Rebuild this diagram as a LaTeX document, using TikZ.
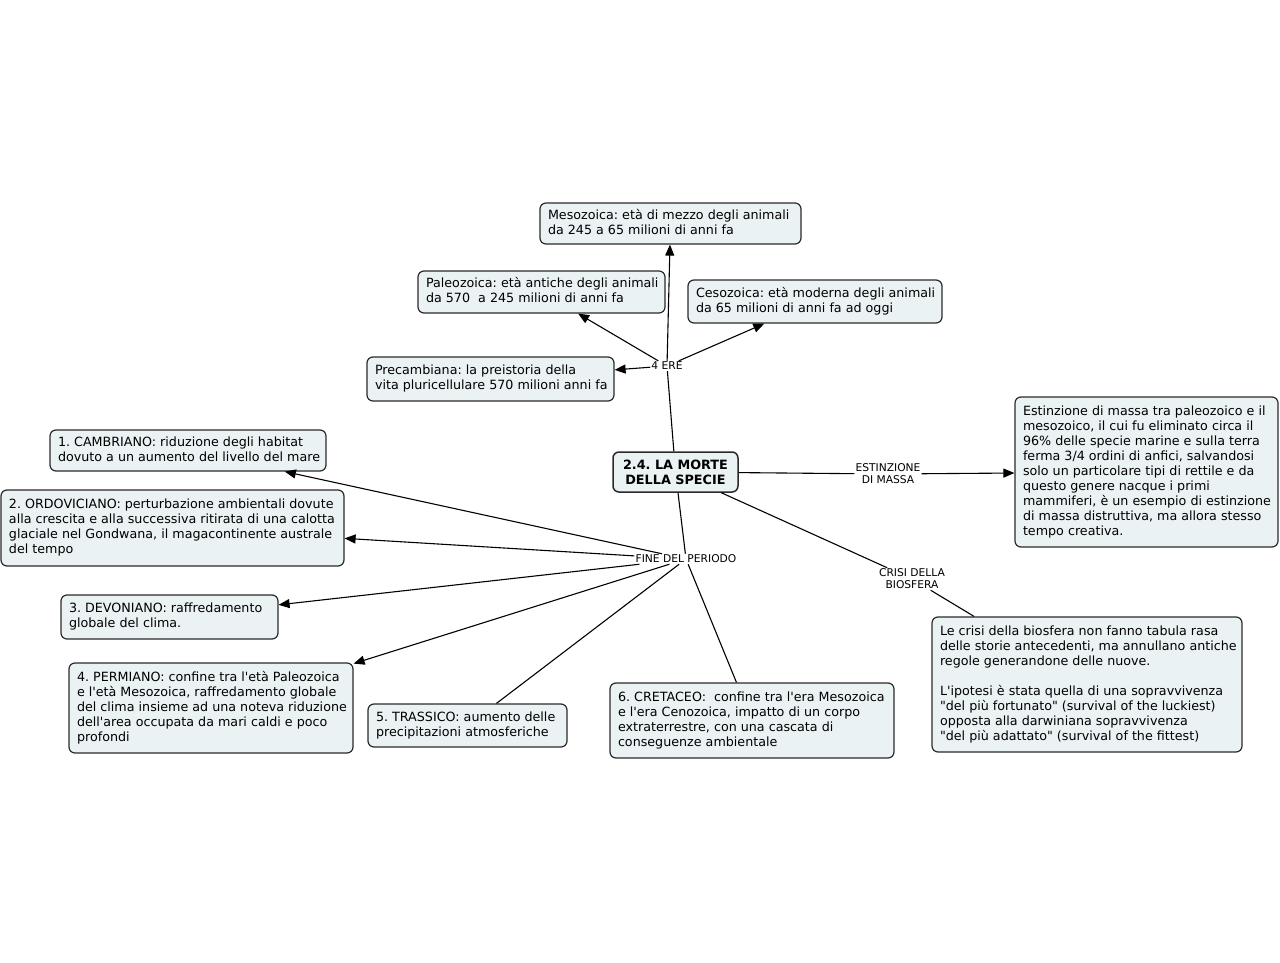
\documentclass[tikz,border=0pt]{standalone}
\usepackage{fontspec}
\setmainfont{DejaVu Sans}
\usetikzlibrary{arrows.meta}
\definecolor{boxfill}{HTML}{EBF2F4}
\definecolor{boxline}{HTML}{2A2A2A}
\frenchspacing
\newcommand{\sq}{\textquotesingle}
\newcommand{\dq}{\textquotedbl}
\tikzset{
  px/.style={x=1pt,y=-1pt},
  cbox/.style={draw=boxline,fill=boxfill,line width=1.2pt,rounded corners=6pt,
    inner xsep=8pt,inner ysep=3pt,font=\fontsize{12.7}{15}\selectfont\frenchspacing},
  hub/.style={draw=boxline,fill=boxfill,line width=1.5pt,rounded corners=6pt,
    inner sep=3pt,font=\fontsize{12.8}{15}\selectfont\bfseries\frenchspacing,align=center},
  lbl/.style={font=\fontsize{10.7}{12}\selectfont,align=center,inner sep=1pt},
  conn/.style={line width=1.1pt,draw=black},
  arr/.style={conn,-{Triangle[length=11pt,width=9pt]}},
}
\newcommand{\bx}[6]{% name, cx, cy, w, h, text
  \node[cbox,minimum width=#4pt,minimum height=#5pt] (#1) at (#2,#3)
  {\makebox[\dimexpr#4pt-16pt\relax][l]{\begin{tabular}{@{}l@{}}#6\end{tabular}}};}
\begin{document}
\begin{tikzpicture}[px]
\useasboundingbox (0,0) rectangle (1280,963);
\fill[white] (0,0) rectangle (1280,963);

\bx{mes}{670.5}{223.5}{261}{41}{Mesozoica: età di mezzo degli animali\\da 245 a 65 milioni di anni fa}
\bx{pal}{541.5}{292}{247}{42}{Paleozoica: età antiche degli animali\\da 570 \ a 245 milioni di anni fa}
\bx{ces}{815}{301.5}{254}{43}{Cesozoica: età moderna degli animali\\da 65 milioni di anni fa ad oggi}
\bx{pre}{490.5}{379}{247}{44}{Precambiana: la preistoria della\\vita pluricellulare 570 milioni anni fa}
\bx{est}{1146.5}{472}{263}{150}{Estinzione di massa tra paleozoico e il\\mesozoico, il cui fu eliminato circa il\\96\% delle specie marine e sulla terra\\ferma 3/4 ordini di anfici, salvandosi\\solo un particolare tipi di rettile e da\\questo genere nacque i primi\\mammiferi, è un esempio di estinzione\\di massa distruttiva, ma allora stesso\\tempo creativa.}
\bx{cri}{1087}{684.5}{310}{135}{Le crisi della biosfera non fanno tabula rasa\\delle storie antecedenti, ma annullano antiche\\regole generandone delle nuove.\\ \\L\sq ipotesi è stata quella di una sopravvivenza\\\dq del più fortunato\dq{} (survival of the luckiest)\\opposta alla darwiniana sopravvivenza\\\dq del più adattato\dq{} (survival of the fittest)}
\bx{c1}{188}{450.5}{276}{41}{1. CAMBRIANO: riduzione degli habitat\\dovuto a un aumento del livello del mare}
\bx{c2}{172.5}{528}{343}{76}{2. ORDOVICIANO: perturbazione ambientali dovute\\alla crescita e alla successiva ritirata di una calotta\\glaciale nel Gondwana, il magacontinente australe\\del tempo}
\bx{c3}{169.5}{617}{217}{44}{3. DEVONIANO: raffredamento\\globale del clima.}
\bx{c4}{211}{708}{284}{90}{4. PERMIANO: confine tra l\sq età Paleozoica\\e l\sq età Mesozoica, raffredamento globale\\del clima insieme ad una noteva riduzione\\dell\sq area occupata da mari caldi e poco\\profondi}
\bx{c5}{467.5}{725.5}{199}{43}{5. TRASSICO: aumento delle\\precipitazioni atmosferiche}
\bx{c6}{752}{720.5}{284}{75}{6. CRETACEO: \ confine tra l\sq era Mesozoica\\e l\sq era Cenozoica, impatto di un corpo\\extraterrestre, con una cascata di\\conseguenze ambientale}

\node[hub,minimum width=125pt,minimum height=40pt] (cen) at (675.5,472) {2.4. LA MORTE\\DELLA SPECIE};

\node[lbl] (ere) at (667,366) {4 ERE};
\node[lbl] (estl) at (888,474) {ESTINZIONE\\DI MASSA};
\node[lbl] (cril) at (912,579) {CRISI DELLA\\BIOSFERA};
\node[lbl] (fine) at (686,559) {FINE DEL PERIODO};

\draw[conn] (cen) -- (ere);
\draw[arr] (ere) -- (mes);
\draw[arr] (ere) -- (pal);
\draw[arr] (ere) -- (ces);
\draw[arr] (ere) -- (pre);

\draw[conn] (cen) -- (estl);
\draw[arr] (estl) -- (est);

\draw[conn] (cen) -- (cril);
\draw[conn] (cril) -- (cri);

\draw[conn] (cen) -- (fine);
\draw[arr] (fine) -- (c1);
\draw[arr] (fine) -- (c2);
\draw[arr] (fine) -- (c3);
\draw[arr] (fine) -- (c4);
\draw[conn] (fine) -- (c5);
\draw[conn] (fine) -- (c6);
\end{tikzpicture}
\end{document}
